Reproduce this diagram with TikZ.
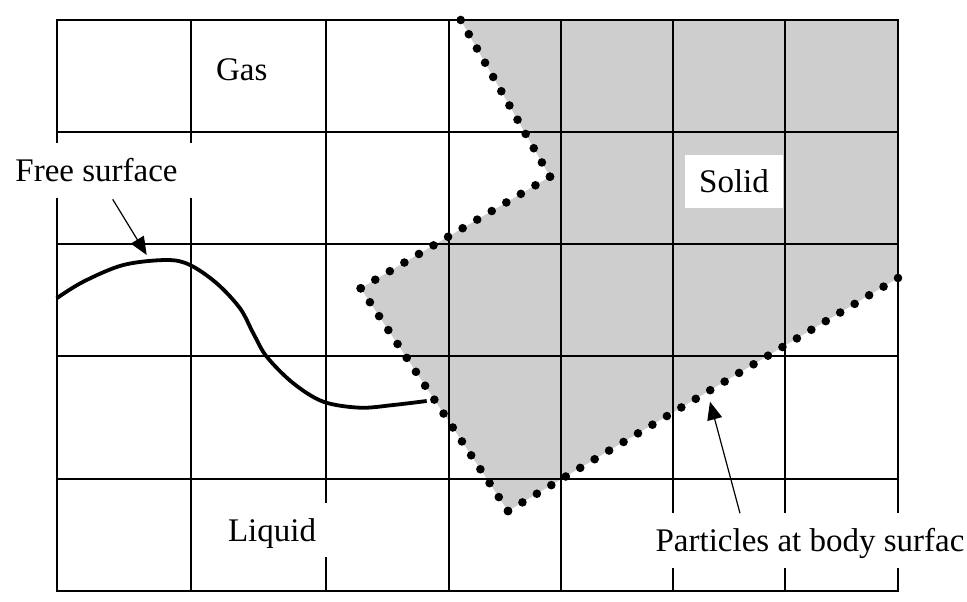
\documentclass[tikz,border=0pt]{standalone}
\usepackage{fontspec}
\setmainfont{Liberation Serif}
\usetikzlibrary{arrows.meta,calc}
\definecolor{solidgray}{RGB}{206,206,206}
\begin{document}
\begin{tikzpicture}[x=1pt,y=-1pt,
  thinline/.style={line width=1.3pt,black},
  thickline/.style={line width=1.9pt,black},
  lbl/.style={font=\fontsize{33}{40}\selectfont, inner sep=0pt, text height=22pt, text depth=0pt, anchor=center},
  whitelbl/.style={lbl, fill=white},
  pointer/.style={line width=1.2pt,-{Triangle[length=18pt,width=15pt]}},
  surfline/.style={line width=3.8pt,line join=round},
]
\useasboundingbox (0,0) rectangle (967,602);
% solid body region
\coordinate (v1) at (460.7,20);
\coordinate (v2) at (550,176.7);
\coordinate (v3) at (360.7,288.3);
\coordinate (v4) at (508,511);
\coordinate (v5) at (898,278);
\fill[solidgray] (v1) -- (v2) -- (v3) -- (v4) -- (v5) -- (898,20) -- cycle;
% grid
\foreach \x in {191,449,561,673,785} \draw[thinline] (\x,20) -- (\x,591);
\foreach \y in {132,356,479} \draw[thinline] (57,\y) -- (898,\y);
\draw[thickline] (326,20) -- (326,591);
\draw[thickline] (57,244) -- (898,244);
\draw[thickline] (57,20) rectangle (898,591);
% labels
\node[lbl] (gas) at (241.7,69.7) {Gas};
\node[whitelbl, minimum width=194pt, minimum height=55pt] (free) at (96.5,170) {Free surface};
\node[whitelbl, minimum width=98pt, minimum height=53pt] (solid) at (734,181.6) {Solid};
\node[whitelbl, minimum width=112pt, minimum height=54pt] (liquid) at (272,530) {Liquid};
\node[whitelbl, minimum width=330pt, minimum height=55pt] (particles) at (810,540.5) {Particles at body surfac};
% particles on body surface
\foreach \a/\b/\n in {v1/v2/11, v2/v3/13, v3/v4/16, v4/v5/27}{
  \foreach \i in {0,...,\n}{
    \fill ($(\a)!\i/\n!(\b)$) circle (4.3pt);
  }
}
% free surface
\draw[surfline] plot[smooth, tension=0.55] coordinates {
  (56.7,298.3) (83.3,281.7) (123.3,265) (166.7,260) (190,265) (216.7,283.3)
  (240,308.3) (253.3,333.3) (266.7,356.7) (293.3,383.3) (323.3,401.7)
  (360,407.7) (393.3,405) (426.7,401)};
% pointers
\coordinate (fsTail) at (112.7,199.3);
\coordinate (fsTip) at (146.7,255);
\draw[pointer] (fsTail) -- (fsTip);
\coordinate (pTail) at (740,513.3);
\coordinate (pTip) at (710,401.7);
\draw[pointer] (pTail) -- (pTip);
\end{tikzpicture}
\end{document}
